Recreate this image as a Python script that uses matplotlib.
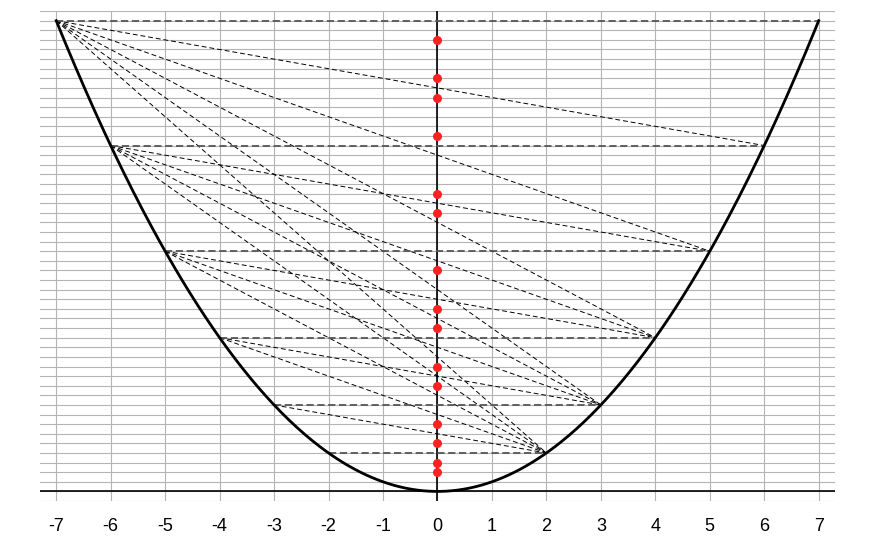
import numpy as np
import matplotlib
matplotlib.use("Agg")
import matplotlib.pyplot as plt

plt.rcParams['font.family'] = ['Liberation Sans', 'DejaVu Sans']
plt.rcParams['axes.unicode_minus'] = False

# left and right points on the parabola y = x^2
left_x = [-7, -6, -5, -4, -3, -2]
right_x = [2, 3, 4, 5, 6, 7]
primes = [2, 3, 5, 7, 11, 13, 17, 19, 23, 29, 31, 37, 41, 43, 47]
xticks = [-7, -6, -5, -4, -3, -2, -1, 0, 1, 2, 3, 4, 5, 6, 7]

fig = plt.figure(figsize=(8.86, 5.53), dpi=100)
ax = fig.add_axes([0.045, 0.094, 0.8975, 0.886])

ax.set_xlim(-7.3, 7.3)
ax.set_ylim(-1, 50)
ax.set_xticks(xticks)
ax.set_yticks(np.arange(-1, 51, 1))
ax.set_yticklabels([])
ax.grid(True, color='#b4b4b4', linewidth=0.8)
ax.set_axisbelow(True)
for s in ax.spines.values():
    s.set_visible(False)
ax.tick_params(length=0, labelsize=13, pad=12)

ax.axhline(0, color='black', linewidth=1.2)
ax.axvline(0, color='black', linewidth=1.2)

# connecting lines
for a in left_x:
    for b in right_x:
        if b > -a:
            continue
        if b == -a:
            ax.plot([a, b], [a * a, b * b], color='#555555', linestyle=(0, (4, 2)), linewidth=1.3)
        else:
            ax.plot([a, b], [a * a, b * b], color='black', linestyle=(0, (5, 3)), linewidth=0.7)

xs = np.linspace(-7, 7, 400)
ax.plot(xs, xs ** 2, color='black', linewidth=2)

ax.scatter([0] * len(primes), primes, color='#ff2020', s=30, zorder=5)

fig.savefig('out.png', dpi=100)
